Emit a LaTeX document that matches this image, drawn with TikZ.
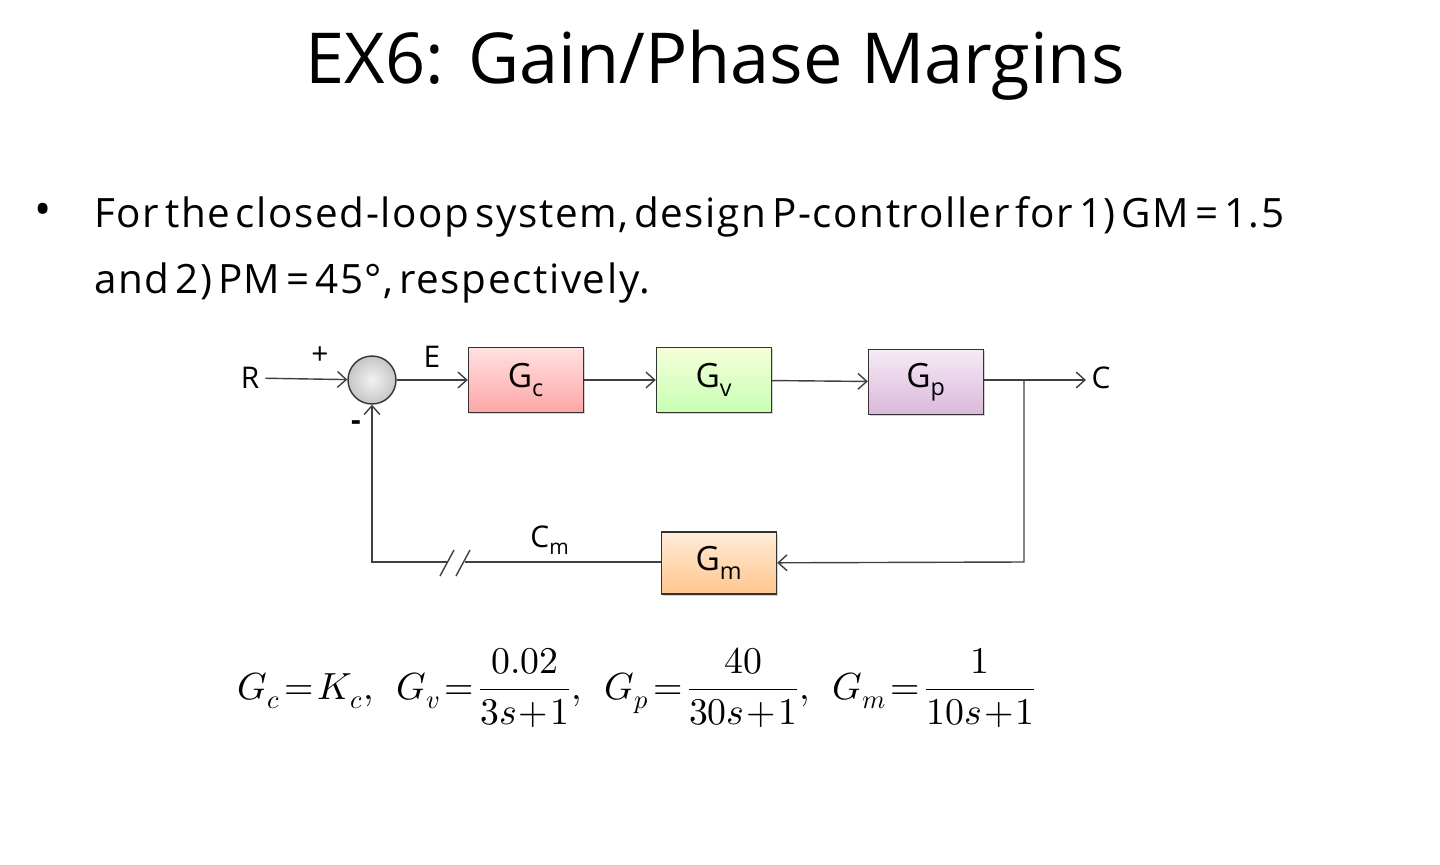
\documentclass[tikz,border=0pt]{standalone}
\usepackage{fontspec}
\setmainfont{Open Sans}
\newfontfamily\bodyfont{Open Sans}[LetterSpace=4,WordSpace={1.5,1,1}]
\usepackage{unicode-math}
\setmathfont{Latin Modern Math}
\usetikzlibrary{arrows.meta,shadows}
\begin{document}
\begin{tikzpicture}[x=0.02cm,y=-0.02cm,
  blk/.style={draw=black!80,line width=0.8pt,minimum width=2.3cm,minimum height=1.3cm,inner sep=0pt,font=\fontsize{19}{22}\selectfont,drop shadow={shadow xshift=1pt,shadow yshift=-1pt,opacity=0.35}},
  con/.style={draw=black!75,line width=0.8pt},
  arr/.style={con,-{Straight Barb[length=5pt,width=9pt]}},
  lbl/.style={font=\fontsize{17}{20}\selectfont}]
\useasboundingbox (0,0) rectangle (1440,865);
\node at (715,65) {\fontsize{40}{46}\selectfont EX6: Gain/Phase Margins};
\node at (43,214) {\fontsize{26}{30}\selectfont •};
\node[anchor=north west,text width=27cm,align=left,inner sep=0pt] at (94,196) {\bodyfont\fontsize{23}{37.5}\selectfont For the closed-loop system, design P-controller for 1) GM = 1.5\\ and 2) PM = 45°, respectively.\par};
\node[lbl] (R) at (250,378) {R};
\node[circle,draw=black!80,line width=0.8pt,minimum size=0.96cm,inner sep=0pt,shading=radial,inner color=gray!10,outer color=gray!45] (S) at (372,380) {};
\node[blk,top color=red!12,bottom color=red!35] (Gc) at (526,380) {G\textsubscript{c}};
\node[blk,top color=lime!15,bottom color=lime!35!green!30] (Gv) at (714,380) {G\textsubscript{v}};
\node[blk,top color=violet!8,bottom color=violet!28] (Gp) at (926,382) {G\textsubscript{p}};
\node[blk,minimum height=1.24cm,top color=orange!15,bottom color=orange!45] (Gm) at (719,563) {G\textsubscript{m}};
\node[lbl] (C) at (1101,378) {C};
\coordinate (br) at (1024,380);
\coordinate (fb) at (1024,562);
\coordinate (fl) at (372,562);
\draw[arr] (R) -- (S);
\draw[arr] (S) -- (Gc);
\draw[arr] (Gc) -- (Gv);
\draw[arr] (Gv) -- (Gp);
\draw[arr] (Gp.east|-br) -- (1086,380);
\draw[arr] (br) -- (fb) -- (Gm);
\draw[arr] (Gm.west|-fl) -- (fl) -- (S);
\fill[white] (447,552) rectangle (465,572);
\draw[con] (440,576) -- (454,550) (456,576) -- (470,550);
\node[lbl] at (320,356) {+};
\node[lbl] at (432,357) {E};
\node[lbl] at (356,426) {\textbf{-}};
\node[lbl] at (550,540) {C\textsubscript{m}};
\node at (637,688) {\fontsize{21.5}{26}\selectfont $G_c\!=\!K_c,\;\,G_v\!=\!\dfrac{0.02}{3s\!+\!1},\;\,G_p\!=\!\dfrac{40}{30s\!+\!1},\;\,G_m\!=\!\dfrac{1}{10s\!+\!1}$};
\end{tikzpicture}
\end{document}
